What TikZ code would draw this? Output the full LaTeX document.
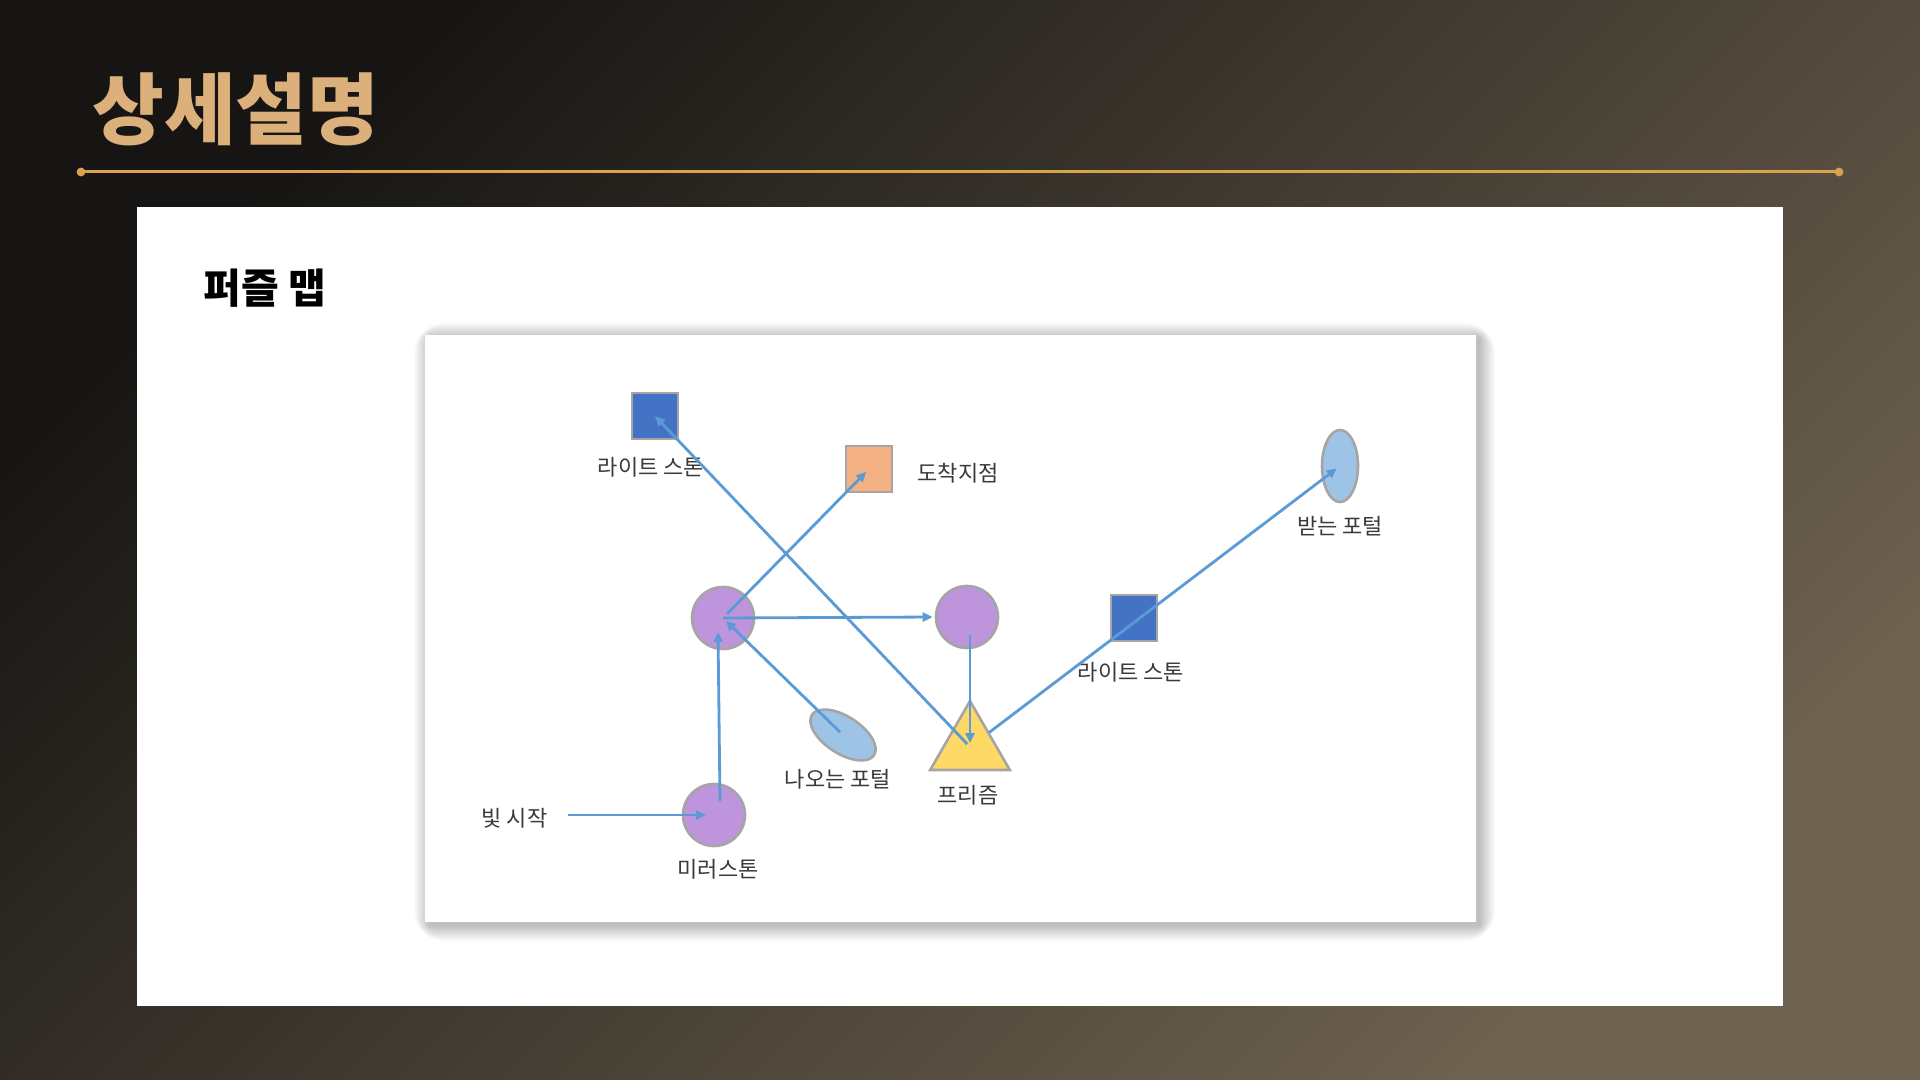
\documentclass[tikz,border=0pt]{standalone}
\usepackage{fontspec}
\setmainfont{Noto Sans CJK KR}
\usepackage{tikz}
\usetikzlibrary{arrows.meta}
\usetikzlibrary{calc,positioning,shapes.geometric}

\definecolor{bgTL}{HTML}{161513}
\definecolor{bgMid}{HTML}{3d352c}
\definecolor{bgBR}{HTML}{6e6250}
\definecolor{gold}{HTML}{D9A24C}
\definecolor{titlegold}{HTML}{DBB07A}
\definecolor{edgegray}{HTML}{A5A5A5}
\definecolor{stoneblue}{HTML}{4472C4}
\definecolor{goalorange}{HTML}{F4B183}
\definecolor{portalblue}{HTML}{9DC3E6}
\definecolor{mirrorpurple}{HTML}{BE94DC}
\definecolor{prismyellow}{HTML}{FFD966}
\definecolor{raycolor}{HTML}{5B9BD5}
\definecolor{labelgray}{HTML}{3A3A3A}

\tikzset{
  piece/.style={draw=edgegray, line width=1.3pt, inner sep=0pt},
  stone/.style={piece, fill=stoneblue, minimum size=23pt},
  goalbox/.style={piece, fill=goalorange, minimum size=23pt},
  orb/.style={piece, circle, fill=mirrorpurple, minimum size=31pt},
  portal/.style={piece, ellipse, fill=portalblue},
  prismtri/.style={piece, regular polygon, regular polygon sides=3, fill=prismyellow, minimum size=46pt},
  lbl/.style={inner sep=0pt, text=labelgray, font=\fontsize{11pt}{13pt}\selectfont},
  ray/.style={draw=raycolor, line width=1.4pt, ->},
}

\begin{document}
\begin{tikzpicture}[>={Triangle[length=5pt,width=4.5pt]}, x=0.5pt, y=-0.5pt]
        \useasboundingbox (0,0) rectangle (1920,1080);
        % background and frame
        \shade[top color=bgTL, middle color=bgMid, bottom color=bgBR, shading angle=45] (0,0) rectangle (1920,1080);
        \node[anchor=west, inner sep=0pt, text=titlegold, font=\bfseries\fontsize{39pt}{44pt}\selectfont] (title) at (92,109) {상세설명};
        \coordinate (rule1) at (81,172);
        \coordinate (rule2) at (1839,172);
        \draw[gold, line width=1.5pt] (rule1) -- (rule2);
        \fill[gold] (rule1) circle (2.2pt) (rule2) circle (2.2pt);
        \fill[white] (137,207) rectangle (1783,1006);
        \node[anchor=west, inner sep=0pt, font=\bfseries\fontsize{20.5pt}{24pt}\selectfont] (head) at (203,288) {퍼즐 맵};

        % map sheet with soft shadow
        \foreach \d in {0,...,15}
            \fill[black, opacity=0.016, rounded corners=\d pt] (429-\d,338-\d) rectangle (1480+\d,926+\d);
        \fill[white] (425,335) rectangle (1476,922);

        % pieces
        \node[stone] (S1) at (655,416) {};
        \node[goalbox] (G) at (869,469) {};
        \node[portal, minimum width=18pt, minimum height=36pt] (P1) at (1340,466) {};
        \node[orb] (C1) at (723,618) {};
        \node[orb] (C2) at (967,617) {};
        \node[stone] (S2) at (1134,618) {};
        \node[portal, minimum width=37pt, minimum height=18.5pt, rotate=-33] (P2) at (843,735) {};
        \node[prismtri] (T) at (970,747) {};
        \node[orb] (M) at (714,815) {};

        % labels
        \node[lbl] (S1l) [below=8.5pt of S1, xshift=-2pt] {라이트 스톤};
        \node[lbl] (Gl) [right=12pt of G, yshift=-2pt] {도착지점};
        \node[lbl] (P1l) [below=6.5pt of P1] {받는 포털};
        \node[lbl] (S2l) [below=10pt of S2, xshift=-1.5pt] {라이트 스톤};
        \node[lbl] (P2l) [below=17pt of P2.center, xshift=-2.5pt] {나오는 포털};
        \node[lbl] (Tl) [below=7pt of T, xshift=-1pt] {프리즘};
        \node[lbl] (Ml) [below=6pt of M, xshift=2pt] {미러스톤};
        \node[lbl] (B) [left=67pt of M, yshift=-1.5pt] {빛 시작};

        % light path
        \draw[ray, shorten <=10pt, shorten >=4pt] (B.east |- M) -- (M.center);
        \draw[ray] ([xshift=3pt, yshift=7pt]M.center) -- ([xshift=-2.5pt, yshift=-7pt]C1.center);
        \draw[ray, shorten <=2pt, shorten >=2pt] (P2.center) -- (C1.center);
        \draw[ray, shorten <=3pt, shorten >=2pt] (C1.center) -- (G.center);
        \draw[ray, shorten >=1pt] (C1.center) -- (C2.west);
        \draw[ray, shorten <=9pt, shorten >=2pt] (C2.center -| T.center) -- (T.center);
        \draw[ray, shorten <=2pt, shorten >=0pt] (T.center) -- (S1.center);
        \draw[ray, shorten <=12pt, shorten >=2pt] (T.center) -- (P1.center);
    \end{tikzpicture}
\end{document}
